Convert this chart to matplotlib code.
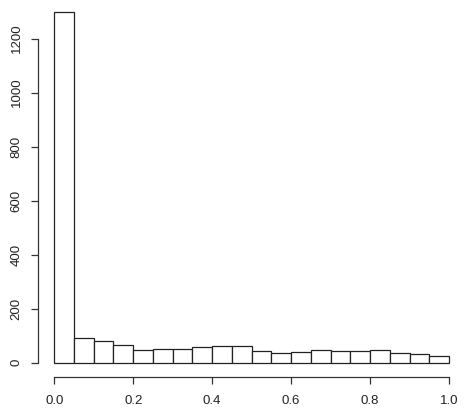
import numpy as np
import matplotlib
matplotlib.use("Agg")
import matplotlib.pyplot as plt

plt.rcParams['font.family'] = ['Liberation Sans', 'DejaVu Sans']

# histogram counts, 20 bins of width 0.05
bin_edges = np.linspace(0, 1, 21)
counts = [1300, 90, 81, 64, 47, 49, 49, 58, 60, 60,
          44, 36, 38, 47, 42, 42, 47, 36, 31, 23]
x_ticks = [0.0, 0.2, 0.4, 0.6, 0.8, 1.0]
y_ticks = [0, 200, 400, 600, 800, 1000, 1200]

fig = plt.figure(figsize=(4.74, 4.16), dpi=100)
ax = fig.add_axes([0.0812, 0.0945, 0.8994, 0.9055])

widths = np.diff(bin_edges)
ax.bar(bin_edges[:-1], counts, width=widths, align='edge',
       facecolor='white', edgecolor='#222222', linewidth=0.9)

ax.set_xlim(-0.04, 1.04)
ax.set_ylim(-52, 1343)

for s in ['top', 'right']:
    ax.spines[s].set_visible(False)
ax.spines['left'].set_bounds(0, 1200)
ax.spines['bottom'].set_bounds(0, 1)
for s in ['left', 'bottom']:
    ax.spines[s].set_color('#333333')
    ax.spines[s].set_linewidth(0.9)

ax.set_xticks(x_ticks)
ax.set_xticklabels(['%.1f' % v for v in x_ticks])
ax.set_yticks(y_ticks)
ax.set_yticklabels([str(v) for v in y_ticks], rotation=90, va='center')
ax.tick_params(axis='both', length=5, width=0.9, color='#333333',
               labelsize=9.5, labelcolor='#222222')
ax.tick_params(axis='x', pad=8)
ax.tick_params(axis='y', pad=6.5)

fig.savefig('out.png', dpi=100)
